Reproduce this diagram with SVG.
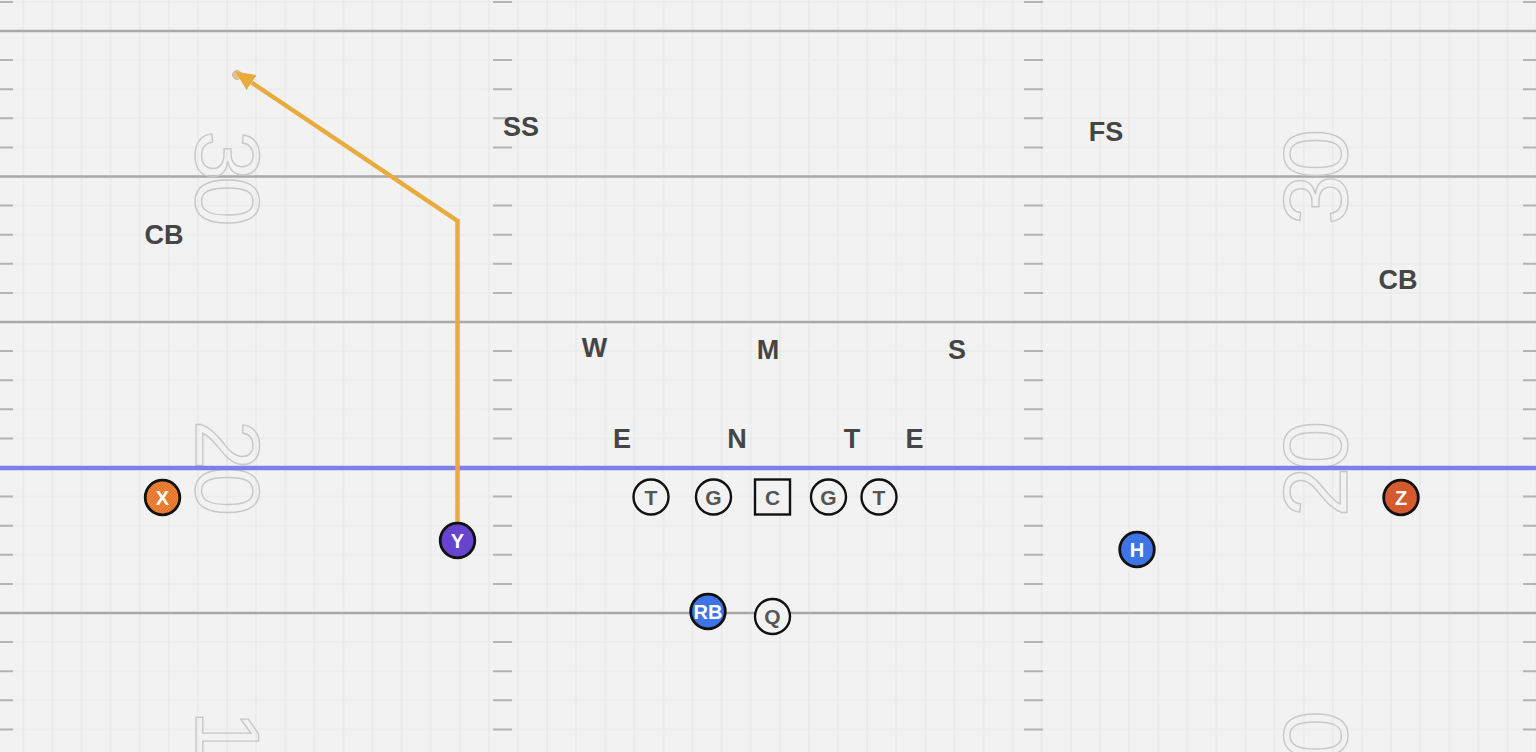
<svg xmlns="http://www.w3.org/2000/svg" width="1536" height="752" viewBox="0 0 1536 752">
<style>
.yard{stroke:#a9a9a9;stroke-width:2.6;fill:none}
.hash{stroke:#b4b4b4;stroke-width:2;fill:none}
.num{font-family:"Liberation Sans",Arial,sans-serif;font-size:90px;fill:none;stroke:#c8c8c8;stroke-width:1.4;text-anchor:middle;letter-spacing:-4px}
.def{font-family:"Liberation Sans",Arial,sans-serif;font-size:27px;font-weight:bold;fill:#454545;text-anchor:middle}
.pl{stroke:#111;stroke-width:2.8}
.ol{fill:#f2f2f2;stroke:#111;stroke-width:2.4}
.olt{font-family:"Liberation Sans",Arial,sans-serif;font-size:21px;font-weight:bold;fill:#555;text-anchor:middle}
.plt{font-family:"Liberation Sans",Arial,sans-serif;font-size:20px;font-weight:bold;fill:#fff;text-anchor:middle}
.route{stroke:#e8ac3e;stroke-width:4.5;fill:none;stroke-linejoin:miter}
</style>
<defs>
<pattern id="grid" patternUnits="userSpaceOnUse" x="8.75" y="16.45" width="29.1" height="29.1">
<path d="M0,14.55 H29.1 M14.55,0 V29.1" stroke="#e7e7e7" stroke-width="1.2" fill="none"/>
</pattern>
<pattern id="speck" patternUnits="userSpaceOnUse" width="3" height="3">
<rect width="3" height="3" fill="#e4682c"/>
<rect width="1.5" height="1.5" fill="#ec9038"/>
<rect x="1.5" y="1.5" width="1.5" height="1.5" fill="#ec9038"/>
</pattern>
<marker id="arrow" viewBox="0 0 20 18" markerWidth="20" markerHeight="18" refX="0" refY="9" orient="auto" markerUnits="userSpaceOnUse">
<path d="M0,0 L20,9 L0,18 Z" fill="#e8ac3e"/>
</marker>
</defs>
<g id="field">
<rect width="1536" height="752" fill="#f2f2f2"/>
<rect width="1536" height="752" fill="url(#grid)"/>
<path class="hash" d="M0,1.9h13M493,1.9h19M1024,1.9h19M1523,1.9h13
M0,60.1h13M493,60.1h19M1024,60.1h19M1523,60.1h13
M0,89.2h13M493,89.2h19M1024,89.2h19M1523,89.2h13
M0,118.3h13M493,118.3h19M1024,118.3h19M1523,118.3h13
M0,147.4h13M493,147.4h19M1024,147.4h19M1523,147.4h13
M0,205.6h13M493,205.6h19M1024,205.6h19M1523,205.6h13
M0,234.7h13M493,234.7h19M1024,234.7h19M1523,234.7h13
M0,263.8h13M493,263.8h19M1024,263.8h19M1523,263.8h13
M0,292.9h13M493,292.9h19M1024,292.9h19M1523,292.9h13
M0,351.1h13M493,351.1h19M1024,351.1h19M1523,351.1h13
M0,380.2h13M493,380.2h19M1024,380.2h19M1523,380.2h13
M0,409.3h13M493,409.3h19M1024,409.3h19M1523,409.3h13
M0,438.4h13M493,438.4h19M1024,438.4h19M1523,438.4h13
M0,496.6h13M493,496.6h19M1024,496.6h19M1523,496.6h13
M0,525.7h13M493,525.7h19M1024,525.7h19M1523,525.7h13
M0,554.8h13M493,554.8h19M1024,554.8h19M1523,554.8h13
M0,583.9h13M493,583.9h19M1024,583.9h19M1523,583.9h13
M0,642.1h13M493,642.1h19M1024,642.1h19M1523,642.1h13
M0,671.2h13M493,671.2h19M1024,671.2h19M1523,671.2h13
M0,700.3h13M493,700.3h19M1024,700.3h19M1523,700.3h13
M0,729.4h13M493,729.4h19M1024,729.4h19M1523,729.4h13"/>
<path class="yard" d="M0,31H1536M0,176.5H1536M0,322H1536M0,613H1536"/>
<text class="num" transform="translate(196,176.5) rotate(90)">30</text>
<text class="num" transform="translate(1347,179) rotate(-90)">30</text>
<text class="num" transform="translate(196,466) rotate(90)">20</text>
<text class="num" transform="translate(1347,471) rotate(-90)">20</text>
<text class="num" transform="translate(196,756.5) rotate(90)">10</text>
<text class="num" transform="translate(1347,760.5) rotate(-90)">10</text>
<line x1="0" y1="468" x2="1536" y2="468" stroke="#7f7fea" stroke-width="4.5"/>
</g>
<g id="connectors">
<circle cx="237" cy="75" r="4.5" fill="#e2c08c" stroke="#c4bcb0" stroke-width="1"/>
<polyline id="route-y" class="route" points="457.5,522 457.5,221 251.7,82.6" marker-end="url(#arrow)"/>
</g>
<g id="defense">
<g id="d-ss"><text class="def" x="521" y="136">SS</text></g>
<g id="d-fs"><text class="def" x="1106" y="141">FS</text></g>
<g id="d-cb-left"><text class="def" x="164" y="244">CB</text></g>
<g id="d-cb-right"><text class="def" x="1398" y="289">CB</text></g>
<g id="d-w"><text class="def" x="594.5" y="357">W</text></g>
<g id="d-m"><text class="def" x="768" y="359">M</text></g>
<g id="d-s"><text class="def" x="957" y="359">S</text></g>
<g id="d-e-left"><text class="def" x="622" y="448">E</text></g>
<g id="d-n"><text class="def" x="737" y="448">N</text></g>
<g id="d-t"><text class="def" x="852" y="448">T</text></g>
<g id="d-e-right"><text class="def" x="914.5" y="448">E</text></g>
</g>
<g id="offense">
<g id="p-x"><circle class="pl" cx="162.5" cy="497.5" r="17.3" fill="url(#speck)"/><text class="plt" x="162.5" y="504.5">X</text></g>
<g id="p-y"><circle class="pl" cx="457.5" cy="540.5" r="17.3" fill="#6744cf"/><text class="plt" x="457.5" y="547.5">Y</text></g>
<g id="p-h"><circle class="pl" cx="1137" cy="549.5" r="17.3" fill="#3e74e6"/><text class="plt" x="1137" y="556.5">H</text></g>
<g id="p-z"><circle class="pl" cx="1401" cy="497.5" r="17.3" fill="#d65a30"/><text class="plt" x="1401" y="504.5">Z</text></g>
<g id="p-rb"><circle class="pl" cx="708" cy="611.5" r="17.3" fill="#3e74e6"/><text class="plt" x="708" y="618.5">RB</text></g>
<g id="p-q"><circle class="ol" cx="772.5" cy="616.5" r="17.5"/><text class="olt" x="772.5" y="624">Q</text></g>
<g id="p-lt"><circle class="ol" cx="651" cy="497" r="17.5"/><text class="olt" x="651" y="504.5">T</text></g>
<g id="p-lg"><circle class="ol" cx="713.5" cy="497" r="17.5"/><text class="olt" x="713.5" y="504.5">G</text></g>
<g id="p-c"><rect class="ol" x="755" y="479.5" width="35" height="35"/><text class="olt" x="772.5" y="504.5">C</text></g>
<g id="p-rg"><circle class="ol" cx="828.5" cy="497" r="17.5"/><text class="olt" x="828.5" y="504.5">G</text></g>
<g id="p-rt"><circle class="ol" cx="879" cy="497" r="17.5"/><text class="olt" x="879" y="504.5">T</text></g>
</g>
</svg>
